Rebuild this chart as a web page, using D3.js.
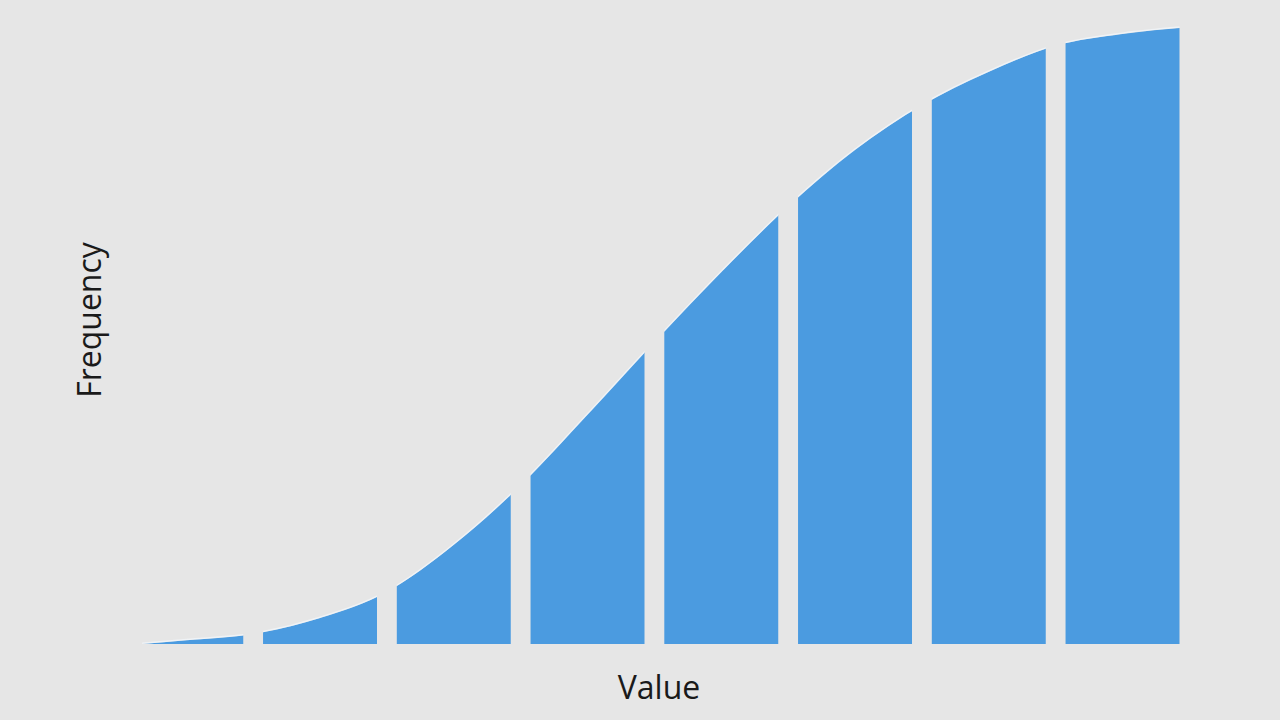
<!DOCTYPE html>
<html><head><meta charset="utf-8">
<script src="https://cdn.jsdelivr.net/npm/d3@7"></script>
<style>html,body{margin:0;padding:0;background:#e6e6e6;}svg{display:block;}</style>
</head><body>
<svg id="chart" width="1280" height="720"></svg>
<script>
// Bin edges (value units) and the smooth frequency curve across them
const binEdges = [0, 10, 20, 30, 40, 50, 60, 70, 80];
const curveX = [1.7, 5, 10, 15, 20, 25, 30, 35, 40, 45, 50, 55, 60, 65, 70, 75, 80];
const curveY = [0, 0.6, 1.6, 4.2, 8.4, 16, 25.6, 37, 48.7, 60, 70.6, 79.7, 86.9, 92.3, 96.5, 98.4, 99.5];
const xLabel = "Value";
const yLabel = "Frequency";

const svg = d3.select("#chart");
const x = d3.scaleLinear().domain([0, 80]).range([119.4, 1189.4]);
const y = d3.scaleLinear().domain([0, 100]).range([644, 24]);
const pad = 9.9;

const pts = curveX.map((v, i) => ({x: v, y: curveY[i]}));
const defs = svg.append("defs");
const clip = defs.append("clipPath").attr("id", "bins");
for (let i = 0; i < binEdges.length - 1; i++) {
  clip.append("rect")
    .attr("x", x(binEdges[i]) + pad)
    .attr("y", 0)
    .attr("width", x(binEdges[i + 1]) - x(binEdges[i]) - 2 * pad)
    .attr("height", y(0));
}
const area = d3.area().x(d => x(d.x)).y0(y(0)).y1(d => y(d.y)).curve(d3.curveMonotoneX);
const line = d3.line().x(d => x(d.x)).y(d => y(d.y)).curve(d3.curveMonotoneX);

const g = svg.append("g").attr("clip-path", "url(#bins)");
g.append("path").datum(pts).attr("d", area).attr("fill", "#4b9be0");
g.append("path").datum(pts).attr("d", line).attr("fill", "none")
  .attr("stroke", "#f4f8fc").attr("stroke-width", 1.5).attr("stroke-opacity", 0.7)
  .attr("transform", "translate(0,-0.8)");

svg.append("text").attr("x", 659).attr("y", 699).attr("text-anchor", "middle")
  .attr("font-family", "Open Sans, sans-serif").attr("font-size", 32).attr("fill", "#1a1a1a")
  .text(xLabel);
svg.append("text").attr("transform", "translate(101,320) rotate(-90)").attr("text-anchor", "middle")
  .attr("font-family", "Open Sans, sans-serif").attr("font-size", 32).attr("fill", "#1a1a1a")
  .text(yLabel);
</script>
</body></html>
